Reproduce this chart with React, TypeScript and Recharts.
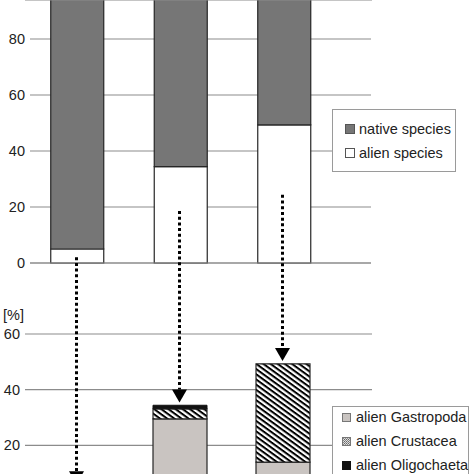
import React from 'react';
import { BarChart, Bar, XAxis, YAxis, CartesianGrid, ReferenceLine, Legend } from 'recharts';

const sites = ['A', 'B', 'C'];
const alienShare = [5, 34.4, 49.3];
const nativeShare = [95, 65.6, 50.7];
const topTicks = [0, 20, 40, 60, 80];

const gastropoda = [3, 29.5, 14];
const crustacea = [1.5, 3.6, 35.3];
const oligochaeta = [0.5, 1.3, 0];
const bottomTicks = [20, 40, 60];
// level (bottom axis units) where each dotted connector starts in the upper panel
const arrowStart = [87.6, 104.2, 110];

const topData = sites.map((s, i) => ({ site: s, alien: alienShare[i], native: nativeShare[i] }));
const bottomData = sites.map((s, i) => ({
  site: s,
  gastropoda: gastropoda[i],
  crustacea: crustacea[i],
  oligochaeta: oligochaeta[i],
}));

const FONT = '"Liberation Sans", Arial, sans-serif';
const GRID = '#8c8c8c';
const OUTLINE = '#262626';
const NATIVE = '#767676';
const GASTRO = '#c9c4c1';

const ArrowShape = (p: any) => {
  const { x1, y1, x2, y2 } = p;
  const headH = 13;
  const headW = 15;
  const baseY = y2 - headH;
  return (
    <g>
      <line x1={x1} y1={y1} x2={x1} y2={baseY} stroke="#000" strokeWidth={3} strokeDasharray="3 2.7" />
      <polygon points={`${x2 - headW / 2},${baseY} ${x2 + headW / 2},${baseY} ${x2},${y2}`} fill="#000" />
    </g>
  );
};

const TopLegend = () => (
  <div
    style={{
      position: 'relative',
      width: 122,
      height: 61,
      border: '1px solid #9a9a9a',
      background: '#fff',
      fontFamily: FONT,
      fontSize: 14.5,
      color: '#222',
    }}
  >
    {[
      { label: 'native species', fill: NATIVE },
      { label: 'alien species', fill: '#fff' },
    ].map((it, i) => (
      <div key={i} style={{ position: 'absolute', left: 12, top: 7 + i * 24, height: 24, display: 'flex', alignItems: 'center' }}>
        <div style={{ width: 8, height: 8, background: it.fill, border: '1px solid #555', marginRight: 4 }} />
        <span style={{ whiteSpace: 'nowrap' }}>{it.label}</span>
      </div>
    ))}
  </div>
);

const BottomLegend = () => (
  <div
    style={{
      position: 'relative',
      width: 135,
      height: 90,
      border: '1px solid #9a9a9a',
      background: '#fff',
      fontFamily: FONT,
      fontSize: 14.5,
      color: '#222',
    }}
  >
    {[
      { label: 'alien Gastropoda', kind: 'g' },
      { label: 'alien Crustacea', kind: 'c' },
      { label: 'alien Oligochaeta', kind: 'o' },
    ].map((it, i) => (
      <div key={i} style={{ position: 'absolute', left: 9, top: -2 + i * 24, height: 24, display: 'flex', alignItems: 'center' }}>
        <svg width={9} height={9} style={{ marginRight: 5 }}>
          <defs>
            <pattern id="legHatch" patternUnits="userSpaceOnUse" width={2} height={2}>
              <rect width={2} height={2} fill="#ddd" />
              <rect width={1} height={1} fill="#666" />
              <rect x={1} y={1} width={1} height={1} fill="#888" />
            </pattern>
          </defs>
          <rect
            x={0.5}
            y={0.5}
            width={8}
            height={8}
            fill={it.kind === 'g' ? GASTRO : it.kind === 'c' ? 'url(#legHatch)' : '#111'}
            stroke={it.kind === 'o' ? '#111' : '#777'}
            strokeWidth={1}
          />
        </svg>
        <span style={{ whiteSpace: 'nowrap' }}>{it.label}</span>
      </div>
    ))}
  </div>
);

export default function App() {
  return (
    <div style={{ position: 'absolute', left: 0, top: 0, width: 474, height: 474, overflow: 'hidden', background: '#fff' }}>
      <div style={{ position: 'absolute', left: 0, top: -17 }}>
        <BarChart width={474} height={290} data={topData} margin={{ top: 0, right: 103, bottom: 10, left: 0 }}>
          <CartesianGrid vertical={false} stroke={GRID} strokeWidth={1.2} />
          <XAxis dataKey="site" hide padding={{ left: -4.25, right: 34.75 }} />
          <YAxis
            width={30}
            domain={[0, 100]}
            ticks={topTicks}
            interval={0}
            axisLine={false}
            tickLine={false}
            tickSize={0}
            tickMargin={5}
            tick={{ fill: '#222', fontSize: 14.5, fontFamily: FONT }}
          />
          <ReferenceLine y={0} stroke={GRID} strokeWidth={1.2} />
          <Bar dataKey="alien" stackId="s" fill="#fff" stroke={OUTLINE} strokeWidth={1.2} barSize={53} isAnimationActive={false} />
          <Bar dataKey="native" stackId="s" fill={NATIVE} stroke={OUTLINE} strokeWidth={1.2} barSize={53} isAnimationActive={false} />
          <Legend
            layout="horizontal"
            verticalAlign="middle"
            align="center"
            content={() => <TopLegend />}
            wrapperStyle={{ position: 'absolute', left: 332, top: 126, width: 124, height: 63 }}
          />
        </BarChart>
      </div>
      <div style={{ position: 'absolute', left: 0, top: 0 }}>
        <BarChart width={474} height={501} data={bottomData} margin={{ top: 0, right: 102, bottom: 0, left: 0 }}>
          <defs>
            <pattern id="hatch" patternUnits="userSpaceOnUse" width={8} height={4.2} patternTransform="rotate(36)">
              <rect width={8} height={4.2} fill="#fff" />
              <line x1={0} y1={1} x2={8} y2={1} stroke="#000" strokeWidth={2} />
            </pattern>
          </defs>
          <CartesianGrid vertical={false} stroke={GRID} strokeWidth={1.2} />
          <XAxis dataKey="site" hide padding={{ left: 0, right: 38 }} />
          <YAxis
            width={25}
            domain={[0, 180]}
            ticks={bottomTicks}
            interval={0}
            axisLine={false}
            tickLine={false}
            tickSize={0}
            tickMargin={5}
            tick={{ fill: '#222', fontSize: 14.5, fontFamily: FONT }}
          />
          <Bar dataKey="gastropoda" stackId="b" fill={GASTRO} stroke={OUTLINE} strokeWidth={1.2} barSize={54} isAnimationActive={false} />
          <Bar dataKey="crustacea" stackId="b" fill="url(#hatch)" stroke={OUTLINE} strokeWidth={1.2} barSize={54} isAnimationActive={false} />
          <Bar dataKey="oligochaeta" stackId="b" fill="#111" stroke="#111" strokeWidth={1} barSize={54} isAnimationActive={false} />
          {sites.map((s, i) => (
            <ReferenceLine
              key={s}
              ifOverflow="visible"
              segment={[
                { x: s, y: arrowStart[i] },
                { x: s, y: gastropoda[i] + crustacea[i] + oligochaeta[i] + 1 },
              ]}
              shape={ArrowShape}
            />
          ))}
          <Legend
            layout="horizontal"
            verticalAlign="middle"
            align="center"
            content={() => <BottomLegend />}
            wrapperStyle={{ position: 'absolute', left: 332, top: 406, width: 137, height: 92 }}
          />
        </BarChart>
      </div>
      <div style={{ position: 'absolute', left: 3, top: 306, fontFamily: FONT, fontSize: 14.5, color: '#222', lineHeight: '18px' }}>[%]</div>
    </div>
  );
}
